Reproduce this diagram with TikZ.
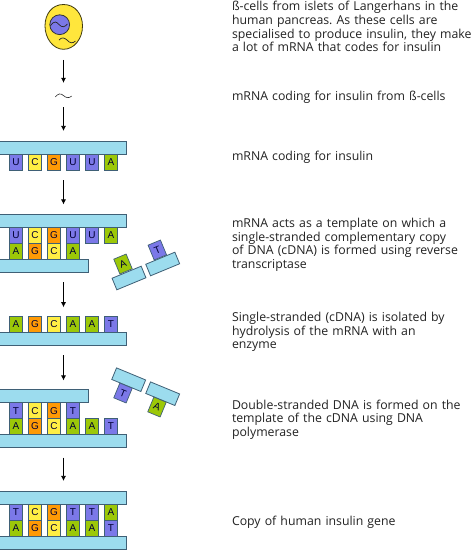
\documentclass[tikz,border=0pt]{standalone}
\usepackage{fontspec}
\setmainfont{Open Sans}
\newfontfamily\basefont{Liberation Sans}
\usetikzlibrary{arrows.meta}
\definecolor{barfill}{HTML}{9CDCEE}
\definecolor{edgeblue}{HTML}{3F6076}
\definecolor{basepurple}{HTML}{7B78E8}
\definecolor{baseyellow}{HTML}{FFEE44}
\definecolor{baseorange}{HTML}{FF9A05}
\definecolor{basegreen}{HTML}{9CC808}
\definecolor{cellyellow}{HTML}{FFE63C}
\definecolor{captionink}{HTML}{222222}
\frenchspacing
\tikzset{
  x=1pt,y=-1pt,
  bar/.style={draw=edgeblue,line width=0.8pt,fill=barfill,minimum height=13.2pt,inner sep=0pt,outer sep=0pt},
  longbar/.style={bar,minimum width=128pt},
  shortbar/.style={bar,minimum width=90pt},
  unitbar/.style={bar,minimum width=31.5pt,minimum height=12.5pt},
  base/.style={draw=edgeblue,line width=0.7pt,minimum width=13.4pt,minimum height=16pt,inner sep=0pt,outer sep=0pt,font=\basefont\fontsize{10}{10}\selectfont,text=black!80!blue},
  U/.style={base,fill=basepurple},
  T/.style={base,fill=basepurple},
  A/.style={base,fill=basegreen},
  C/.style={base,fill=baseyellow},
  G/.style={base,fill=baseorange},
  flow/.style={draw=black,line width=0.7pt,-{Latex[length=5pt,width=5pt]}},
  squiggle/.style={draw=black!85,line width=0.6pt},
  caption/.style={anchor=north west,align=left,inner sep=0pt,outer sep=0pt,text=captionink,
    font=\fontsize{12.3}{13.55}\selectfont,text width=242pt}
}
% one strand of bases: prefix, y of the centre, list of slot/letter pairs
\newcommand{\strand}[3]{%
  \foreach \slot/\letter in {#3}{%
    \node[\letter] (#1\slot) at ({16+19*(\slot-1)},#2) {\letter};
  }%
}
\begin{document}
\begin{tikzpicture}
\useasboundingbox (0,0) rectangle (474,550);
\fill[white] (0,0) rectangle (474,550);

% beta cell with its nucleus and mRNA
\coordinate (cell) at (63.5,27);
\filldraw[draw=black!75!cellyellow,line width=0.8pt,fill=cellyellow]
  (63.5,4.5) .. controls (75,4.5) and (82.5,14) .. (82.5,26)
  .. controls (82.5,39) and (74,49.3) .. (63.5,49.3)
  .. controls (53,49.3) and (45,38) .. (45,26)
  .. controls (45,14) and (52,4.5) .. (63.5,4.5) -- cycle;
\node[circle,draw=black!80,line width=0.8pt,fill=basepurple,minimum size=19.8pt,inner sep=0pt] (nucleus) at (59.7,24.7) {};
\draw[squiggle,line width=0.7pt] (50.5,25.8) .. controls (54,20) and (57,22) .. (59,24.5) .. controls (62,28) and (65,27) .. (67.5,24);
\draw[squiggle,line width=0.7pt] (59,40) .. controls (62,37) and (64,37.5) .. (67,40) .. controls (70,43.5) and (73,43.5) .. (75.5,41);

% free mRNA
\node[inner sep=0pt,minimum width=17pt,minimum height=6pt] (wave) at (63.5,96) {};
\draw[squiggle] (55.3,97) .. controls (58,93.5) and (60.5,93) .. (63.5,95.5) .. controls (66,98) and (69,98.5) .. (71.7,96);

% mRNA on its carrier
\node[longbar] (barA) at (62.7,147.5) {};
\strand{a}{162.3}{1/U,2/C,3/G,4/U,5/U,6/A}

% mRNA with the growing cDNA strand
\node[longbar] (barB) at (62.7,221) {};
\strand{b}{235.5}{1/U,2/C,3/G,4/U,5/U,6/A}
\strand{c}{251.3}{1/A,2/G,3/C,4/A}
\node[shortbar] (barC) at (43.7,265.9) {};

% free nucleotides, tilted up to the right
\node[unitbar,rotate=22.5] (unitA) at (129,278) {};
\node[A,rotate=22.5] (freeA) at (123,264) {A};
\node[unitbar,rotate=22.5] (unitT) at (162.7,264) {};
\node[T,rotate=22.5] (freeT) at (157.3,250) {T};

% isolated cDNA
\strand{d}{324.2}{1/A,2/G,3/C,4/A,5/A,6/T}
\node[longbar] (barD) at (62.7,339) {};

% second strand being built
\node[shortbar] (barE) at (43.7,396) {};
\strand{e}{410.7}{1/T,2/C,3/G,4/T}
\strand{f}{426.5}{1/A,2/G,3/C,4/A,5/A,6/T}
\node[longbar] (barF) at (62.7,441) {};

% free nucleotides, tilted down to the right
\node[unitbar,rotate=-22.5] (unitT2) at (128.7,379.7) {};
\node[T,rotate=-22.5] (freeT2) at (123,393) {T};
\node[unitbar,rotate=-22.5] (unitA2) at (162.7,393.7) {};
\node[A,rotate=-22.5] (freeA2) at (157,407) {A};

% finished gene copy
\node[longbar] (barG) at (62.7,497.5) {};
\strand{g}{512.2}{1/T,2/C,3/G,4/T,5/T,6/A}
\strand{h}{528.2}{1/A,2/G,3/C,4/A,5/A,6/T}
\node[longbar] (barH) at (62.7,543) {};

% flow between the stages
\draw[flow,shorten <=10.5pt,shorten >=10pt] (cell |- 0,49.3) -- (wave.north);
\draw[flow,shorten <=8pt,shorten >=10pt] (wave.south) -- (barA.north -| wave);
\draw[flow,shorten <=10pt,shorten >=10pt] (a3.south -| wave) -- (barB.north -| wave);
\draw[flow,shorten <=9.5pt,shorten >=9pt] (barC.south -| wave) -- (d3.north -| wave);
\draw[flow,shorten <=9.5pt,shorten >=9pt] (barD.south -| wave) -- (barE.north -| wave);
\draw[flow,shorten <=10pt,shorten >=10pt] (barF.south -| wave) -- (barG.north -| wave);

% captions
\node[caption] (t1) at (232,1.5) {ß-cells from islets of Langerhans in the\\human pancreas. As these cells are\\specialised to produce insulin, they make\\a lot of mRNA that codes for insulin};
\node[caption] (t2) at (232,91) {mRNA coding for insulin from ß-cells};
\node[caption] (t3) at (232,151) {mRNA coding for insulin};
\node[caption] (t4) at (232,218.5) {mRNA acts as a template on which a\\single-stranded complementary copy\\of DNA (cDNA) is formed using reverse\\transcriptase};
\node[caption] (t5) at (232,312.5) {Single-stranded (cDNA) is isolated by\\hydrolysis of the mRNA with an\\enzyme};
\node[caption] (t6) at (232,400) {Double-stranded DNA is formed on the\\template of the cDNA using DNA\\polymerase};
\node[caption] (t7) at (232,516) {Copy of human insulin gene};
\end{tikzpicture}
\end{document}
